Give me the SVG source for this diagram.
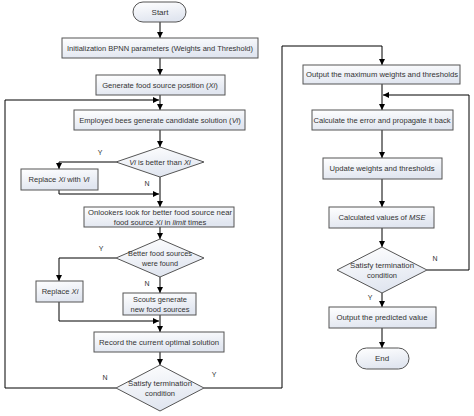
<svg xmlns="http://www.w3.org/2000/svg" width="474" height="416" viewBox="0 0 474 416">
<defs>
<linearGradient id="g" x1="0" y1="0" x2="0.3" y2="1">
<stop offset="0" stop-color="#ffffff"/>
<stop offset="1" stop-color="#e1e6f0"/>
</linearGradient>
<marker id="ah" viewBox="0 0 10 10" refX="10" refY="5" markerWidth="6" markerHeight="6" orient="auto" markerUnits="userSpaceOnUse">
<path d="M0,0 L10,5 L0,10 z" fill="#000"/>
</marker>
</defs>
<style>
.b{fill:url(#g);stroke:#555;stroke-width:1}
.t{font-family:"Liberation Sans",Arial,sans-serif;font-size:8px;fill:#333;text-anchor:middle}
.s{font-size:7.6px}
.i{font-style:italic}
.l{font-family:"Liberation Sans",Arial,sans-serif;font-size:7px;fill:#333;text-anchor:middle}
.c{fill:none;stroke:#000;stroke-width:1}
.a{fill:none;stroke:#000;stroke-width:1;marker-end:url(#ah)}
</style>
<rect width="474" height="416" fill="#fff"/>
<g id="connectors">
<path class="a" d="M160,22 V38"/>
<path class="a" d="M160,58 V75"/>
<path class="a" d="M160,95 V110"/>
<path class="a" d="M5,100 H159"/>
<path class="c" d="M116,388 H5 V100"/>
<path class="a" d="M160,130 V147"/>
<path class="a" d="M116,162 H59 V169"/>
<path class="a" d="M59,190 V194 H159"/>
<path class="a" d="M160,177 V207"/>
<path class="a" d="M160,227 V239"/>
<path class="a" d="M116,258 H59 V281"/>
<path class="a" d="M160,277 V293"/>
<path class="a" d="M59,302 V321 H159"/>
<path class="a" d="M160,315 V332"/>
<path class="a" d="M160,352 V365"/>
<path class="a" d="M204,388 H282 V46 H382 V65"/>
<path class="a" d="M382,84 V110"/>
<path class="a" d="M427,270 H469 V95 H383"/>
<path class="a" d="M382,130 V158"/>
<path class="a" d="M382,179 V207"/>
<path class="a" d="M382,228 V247"/>
<path class="a" d="M382,293 V307"/>
<path class="a" d="M382,328 V348"/>
</g>
<g id="labels">
<text class="l" x="100" y="155">Y</text>
<text class="l" x="147" y="186">N</text>
<text class="l" x="101" y="251">Y</text>
<text class="l" x="147" y="286">N</text>
<text class="l" x="105" y="380">N</text>
<text class="l" x="214" y="377">Y</text>
<text class="l" x="435" y="261">N</text>
<text class="l" x="370" y="300">Y</text>
</g>
<g id="start"><rect class="b" x="133" y="2" width="53" height="20" rx="10"/><text class="t" x="160" y="15">Start</text></g>
<g id="init"><rect class="b" x="62" y="38" width="196" height="20"/><text class="t" x="160" y="51" textLength="186" lengthAdjust="spacingAndGlyphs">Initialization BPNN parameters (Weights and Threshold)</text></g>
<g id="gen"><rect class="b" x="96" y="75" width="129" height="20"/><text class="t s" x="160" y="88">Generate food source position (<tspan class="i">Xi</tspan>)</text></g>
<g id="employed"><rect class="b" x="74" y="110" width="171" height="20"/><text class="t s" x="160" y="123">Employed bees generate candidate solution (<tspan class="i">Vi</tspan>)</text></g>
<g id="d1"><path class="b" d="M160,147 L204,162 L160,177 L116,162 z"/><text class="t s" x="160" y="165"><tspan class="i">Vi</tspan> is better than <tspan class="i">Xi</tspan></text></g>
<g id="replace1"><rect class="b" x="21" y="169" width="77" height="21"/><text class="t s" x="59" y="182">Replace <tspan class="i">Xi</tspan> with <tspan class="i">Vi</tspan></text></g>
<g id="onlookers"><rect class="b" x="84" y="207" width="150" height="20"/>
<text class="t" x="160" y="215" textLength="144" lengthAdjust="spacingAndGlyphs">Onlookers look for better food source near</text>
<text class="t s" x="160" y="225">food source <tspan class="i">Xi</tspan> in <tspan class="i">limit</tspan> times</text></g>
<g id="d2"><path class="b" d="M160,239 L204,258 L160,277 L116,258 z"/>
<text class="t" x="160" y="256" textLength="64" lengthAdjust="spacingAndGlyphs">Better food sources</text>
<text class="t" x="160" y="266" textLength="36" lengthAdjust="spacingAndGlyphs">were found</text></g>
<g id="replace2"><rect class="b" x="36" y="281" width="47" height="21"/><text class="t s" x="60" y="294">Replace <tspan class="i">Xi</tspan></text></g>
<g id="scouts"><rect class="b" x="123" y="293" width="73" height="22"/>
<text class="t" x="160" y="302" textLength="54" lengthAdjust="spacingAndGlyphs">Scouts generate</text>
<text class="t" x="160" y="312" textLength="59" lengthAdjust="spacingAndGlyphs">new food sources</text></g>
<g id="record"><rect class="b" x="94" y="332" width="130" height="20"/><text class="t" x="159" y="345" textLength="120" lengthAdjust="spacingAndGlyphs">Record the current optimal solution</text></g>
<g id="d3"><path class="b" d="M160,365 L204,388 L160,411 L116,388 z"/>
<text class="t" x="160" y="386" textLength="64" lengthAdjust="spacingAndGlyphs">Satisfy termination</text>
<text class="t" x="160" y="396" textLength="30" lengthAdjust="spacingAndGlyphs">condition</text></g>
<g id="outmax"><rect class="b" x="303" y="65" width="157" height="19"/><text class="t" x="382" y="77" textLength="152" lengthAdjust="spacingAndGlyphs">Output the maximum weights and thresholds</text></g>
<g id="calc"><rect class="b" x="312" y="110" width="141" height="20"/><text class="t" x="382" y="123" textLength="137" lengthAdjust="spacingAndGlyphs">Calculate the error and propagate it back</text></g>
<g id="update"><rect class="b" x="323" y="158" width="119" height="21"/><text class="t" x="382" y="171" textLength="105" lengthAdjust="spacingAndGlyphs">Update weights and thresholds</text></g>
<g id="mse"><rect class="b" x="329" y="207" width="105" height="21"/><text class="t s" x="382" y="220">Calculated values of <tspan class="i">MSE</tspan></text></g>
<g id="d4"><path class="b" d="M382,247 L427,270 L382,293 L337,270 z"/>
<text class="t" x="382" y="268" textLength="64" lengthAdjust="spacingAndGlyphs">Satisfy termination</text>
<text class="t" x="382" y="278" textLength="30" lengthAdjust="spacingAndGlyphs">condition</text></g>
<g id="predicted"><rect class="b" x="329" y="307" width="107" height="21"/><text class="t" x="382" y="320" textLength="91" lengthAdjust="spacingAndGlyphs">Output the predicted value</text></g>
<g id="end"><rect class="b" x="356" y="348" width="53" height="21" rx="10.5"/><text class="t" x="382" y="361">End</text></g>
</svg>
